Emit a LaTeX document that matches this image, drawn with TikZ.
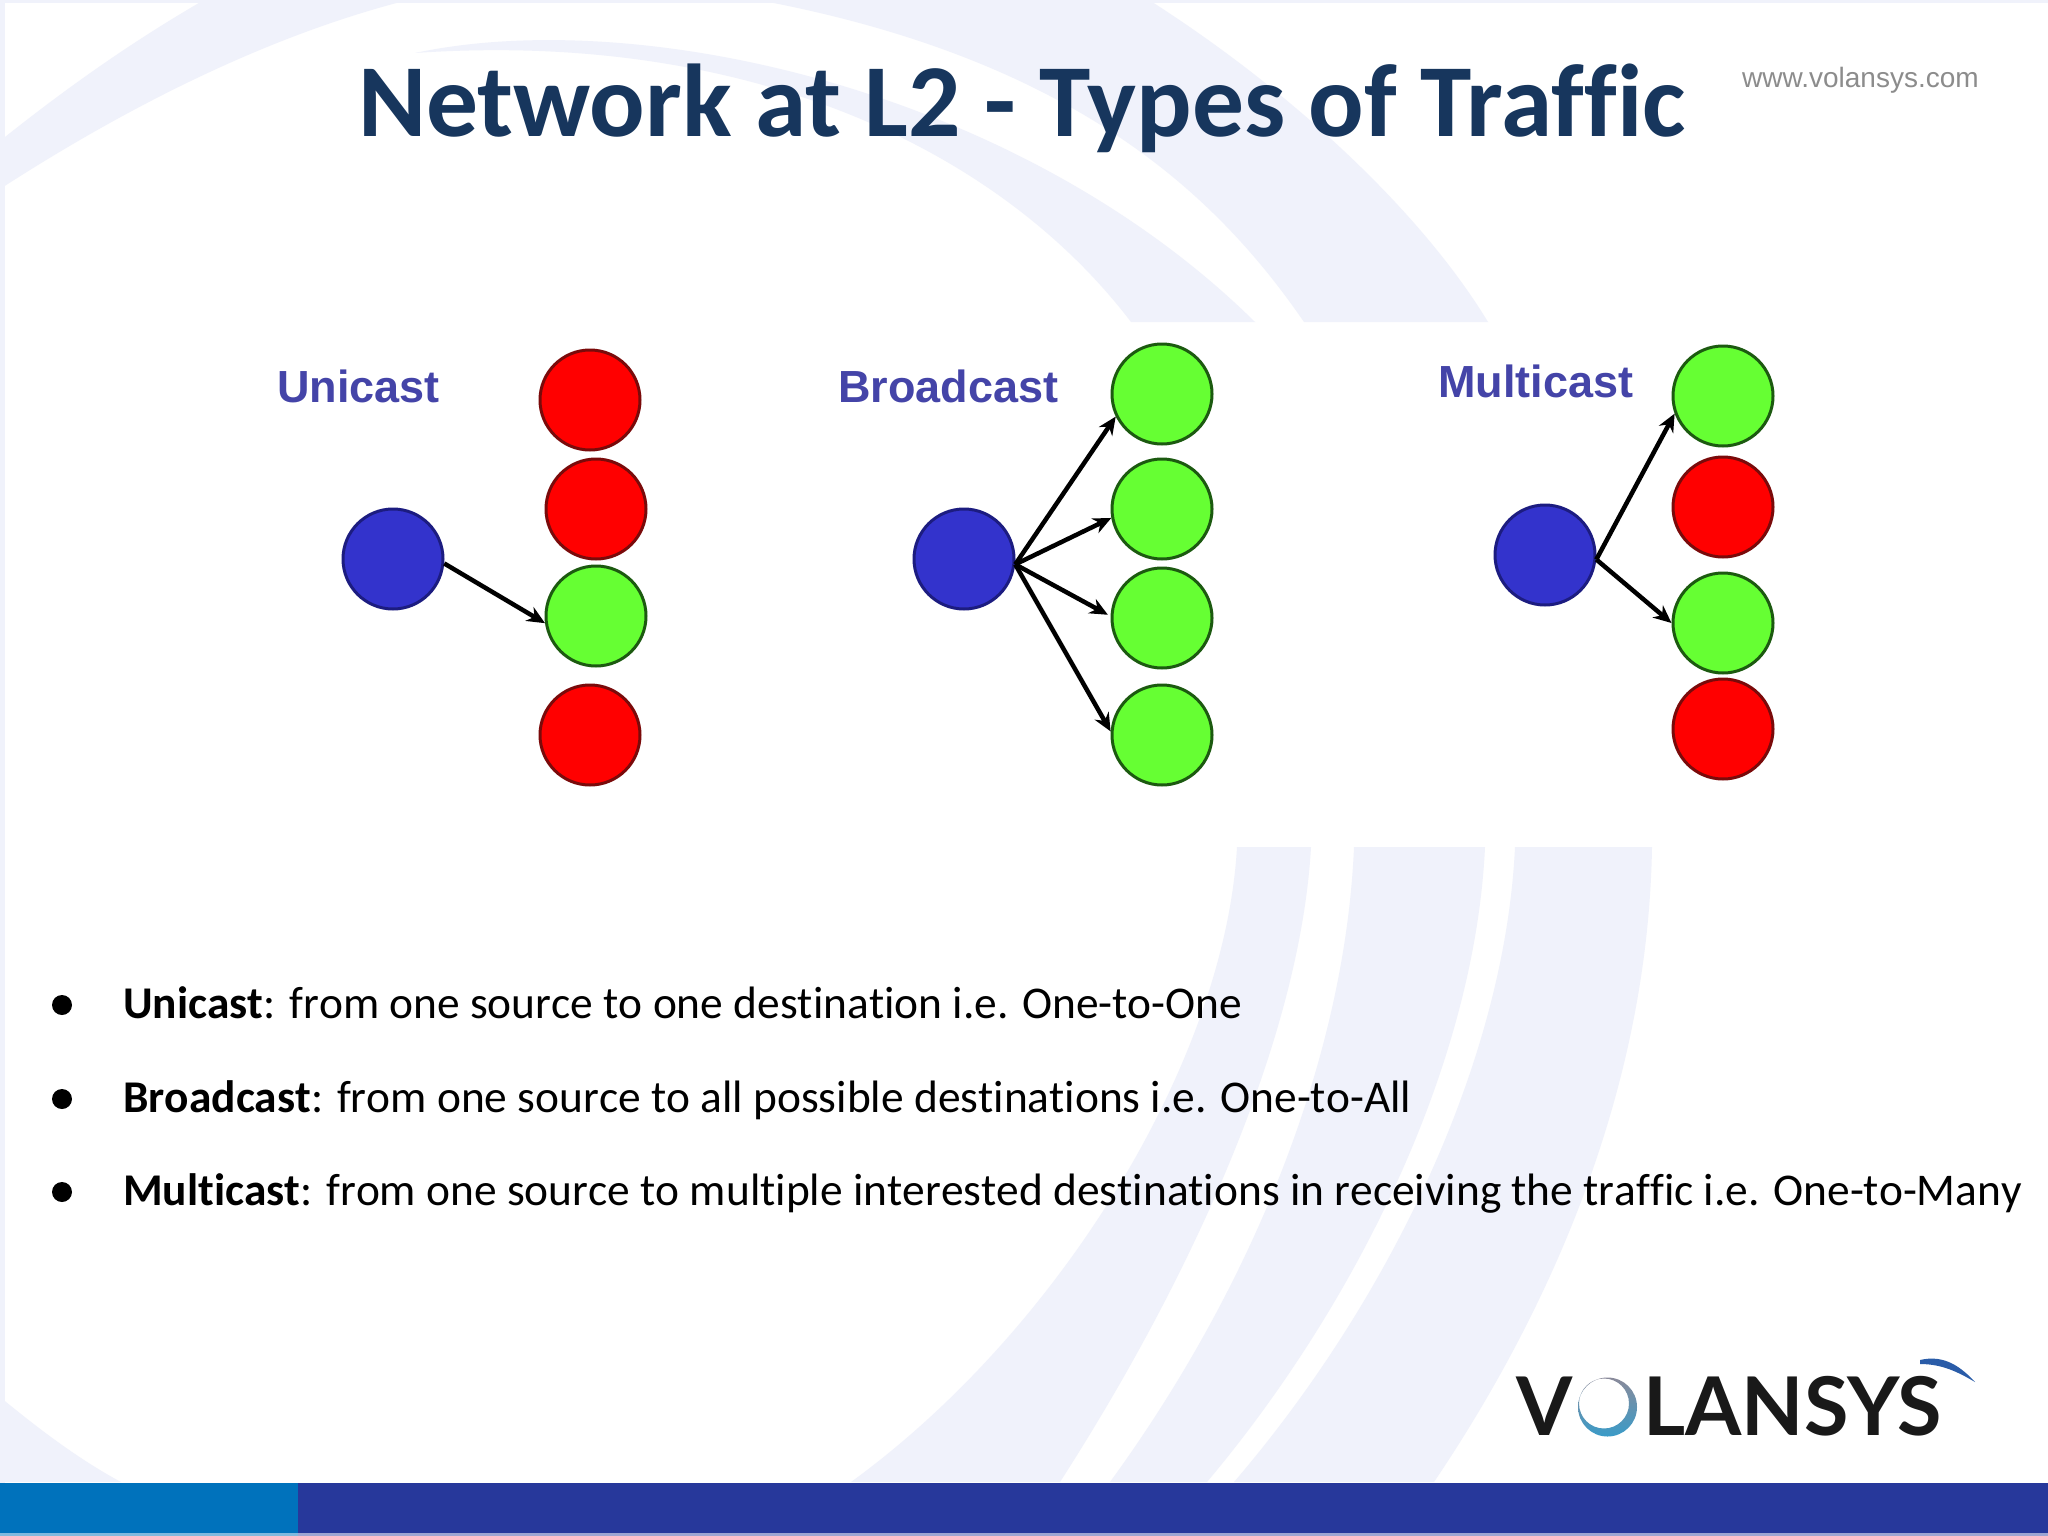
\documentclass[tikz,border=0pt]{standalone}
\usepackage{fontspec}
\setmainfont{Carlito}[Ligatures=NoCommon]
\newfontfamily\bodyf{Carlito}[Ligatures=NoCommon,Kerning=Off]
\newfontfamily\arialf{Liberation Sans}
\newfontfamily\logof{Lato}
\usetikzlibrary{arrows.meta}
\definecolor{bandc}{HTML}{F0F2FB}
\definecolor{titlec}{HTML}{17365D}
\definecolor{labelc}{HTML}{4444A8}
\definecolor{redf}{HTML}{FF0000}
\definecolor{redd}{HTML}{7A0A0A}
\definecolor{greenf}{HTML}{66FF33}
\definecolor{greend}{HTML}{1C5A10}
\definecolor{bluef}{HTML}{3333CC}
\definecolor{blued}{HTML}{1C1C80}
\definecolor{barblue}{HTML}{27389B}
\definecolor{barcyan}{HTML}{0072BC}
\definecolor{ringa}{HTML}{8A8A9A}
\definecolor{ringb}{HTML}{5A55B5}
\definecolor{ringc}{HTML}{3A9BC8}
\definecolor{swoosh}{HTML}{2A5CA8}
\tikzset{
  x=1pt,y=-1pt,
  band/.style={fill=bandc,draw=none},
  dot/.style={circle,minimum size=100pt,inner sep=0pt,line width=3pt},
  rednode/.style={dot,fill=redf,draw=redd},
  greennode/.style={dot,fill=greenf,draw=greend},
  bluenode/.style={dot,fill=bluef,draw=blued},
  conn/.style={line width=4.5pt,black,-{Stealth[length=18pt,width=16pt]}},
  grouplabel/.style={inner sep=0pt,anchor=base west,text=labelc,font=\arialf\bfseries\fontsize{45}{50}\selectfont},
  bullettext/.style={inner sep=0pt,anchor=base west,text=black,font=\bodyf\fontsize{45.4}{50}\selectfont},
  bulletdot/.style={circle,fill=black,minimum size=20pt,inner sep=0pt},
  logotext/.style={inner sep=0pt,anchor=base west,text=black!90,font=\logof\bfseries\fontsize{81}{84}\selectfont},
}
\begin{document}
\begin{tikzpicture}
\useasboundingbox (0,0) rectangle (2048,1536);
\fill[white] (0,0) rectangle (2048,1536);
% background swooshes
\fill[band] (0,0) rectangle (5,1536);
\fill[band] (0,0) rectangle (2048,3);
\fill[band] (0,141) .. controls (70,85) and (135,40) .. (204,0) -- (1149,0)
  .. controls (1290,90) and (1420,210) .. (1488,322) -- (1304,322)
  .. controls (1220,200) and (1080,60) .. (758,0) -- (408,0)
  .. controls (270,35) and (130,105) .. (0,189) -- cycle;
\fill[band] (415,53) .. controls (640,5) and (1020,90) .. (1255,322) -- (1131,322)
  .. controls (1000,150) and (750,30) .. (415,53) -- cycle;
\fill[band] (1237,847) .. controls (1225,1060) and (1060,1330) .. (851,1482) -- (1060,1482)
  .. controls (1190,1280) and (1300,1040) .. (1311,847) -- cycle;
\fill[band] (1354,847) .. controls (1345,1060) and (1250,1290) .. (1110,1482) -- (1207,1482)
  .. controls (1360,1300) and (1475,1060) .. (1485,847) -- cycle;
\fill[band] (1515,847) .. controls (1505,1060) and (1390,1300) .. (1234,1482) -- (1434,1482)
  .. controls (1550,1310) and (1648,1090) .. (1652,847) -- cycle;
\fill[band] (0,1397) .. controls (40,1430) and (80,1460) .. (121,1482) -- (0,1482) -- cycle;
% footer bar
\fill[barblue] (0,1483) rectangle (2048,1533);
\fill[barcyan] (0,1483) rectangle (298,1533);
\fill[barblue!45!white] (298,1533) rectangle (2048,1536);
\fill[barcyan!50!white] (0,1533) rectangle (298,1536);
% title
\node[inner sep=0pt,anchor=base,text=titlec,font=\bfseries\fontsize{103.5}{106}\selectfont] (title) at (1022,136) {Network at L2 - Types of Traffic};
\node[inner sep=0pt,anchor=base west,text=black!45,font=\arialf\fontsize{28}{30}\selectfont] (url) at (1742,88) {www.volansys.com};
% unicast
\node[grouplabel] (ulabel) at (277,402) {Unicast};
\node[bluenode] (ub) at (393,559) {};
\node[rednode] (u1) at (590,400) {};
\node[rednode] (u2) at (596,509) {};
\node[greennode] (u3) at (596,616) {};
\node[rednode] (u4) at (590,735) {};
\draw[conn] (ub.-5) -- (u3.188);
% broadcast
\node[grouplabel] (blabel) at (838,402) {Broadcast};
\node[bluenode] (bb) at (964,559) {};
\node[greennode] (b1) at (1162,394) {};
\node[greennode] (b2) at (1162,509) {};
\node[greennode] (b3) at (1162,618) {};
\node[greennode] (b4) at (1162,735) {};
\draw[conn] (bb.-6) -- (b1.206);
\draw[conn] (bb.-6) -- (b2.190);
\draw[conn,shorten >=3pt] (bb.-6) -- (b3.178);
\draw[conn] (bb.-6) -- (b4.176);
% multicast
\node[grouplabel] (mlabel) at (1438,397) {Multicast};
\node[bluenode] (mb) at (1545,555) {};
\node[greennode] (m1) at (1723,396) {};
\node[rednode] (m2) at (1723,507) {};
\node[greennode] (m3) at (1723,623) {};
\node[rednode] (m4) at (1723,729) {};
\draw[conn] (mb.-5) -- (m1.200);
\draw[conn] (mb.-5) -- (m3.180);
% bullets
\node[bulletdot] (d1) at (62,1005) {};
\node[bulletdot] (d2) at (62,1099) {};
\node[bulletdot] (d3) at (62,1192) {};
\node[bullettext] (t1) at (123,1018) {\textbf{Unicast}: from one source to one destination i.e. One-to-One};
\node[bullettext] (t2) at (123,1112) {\textbf{Broadcast}: from one source to all possible destinations i.e. One-to-All};
\node[bullettext] (t3) at (123,1205) {\textbf{Multicast}: from one source to multiple interested destinations in receiving the traffic i.e. One-to-Many};
% logo
\node[logotext] (logov) at (1516,1435) {V};
\node[logotext] (logot) at (1643,1435) {LANSYS};
\shade[even odd rule,top color=ringa,middle color=ringb,bottom color=ringc]
  (1607.5,1407) circle (29.5) (1604,1403.5) circle (25);
\fill[swoosh] (1920,1360) .. controls (1945,1354) and (1962,1368) .. (1975,1382) .. controls (1958,1372) and (1942,1364) .. (1920,1364) -- cycle;
\end{tikzpicture}
\end{document}
